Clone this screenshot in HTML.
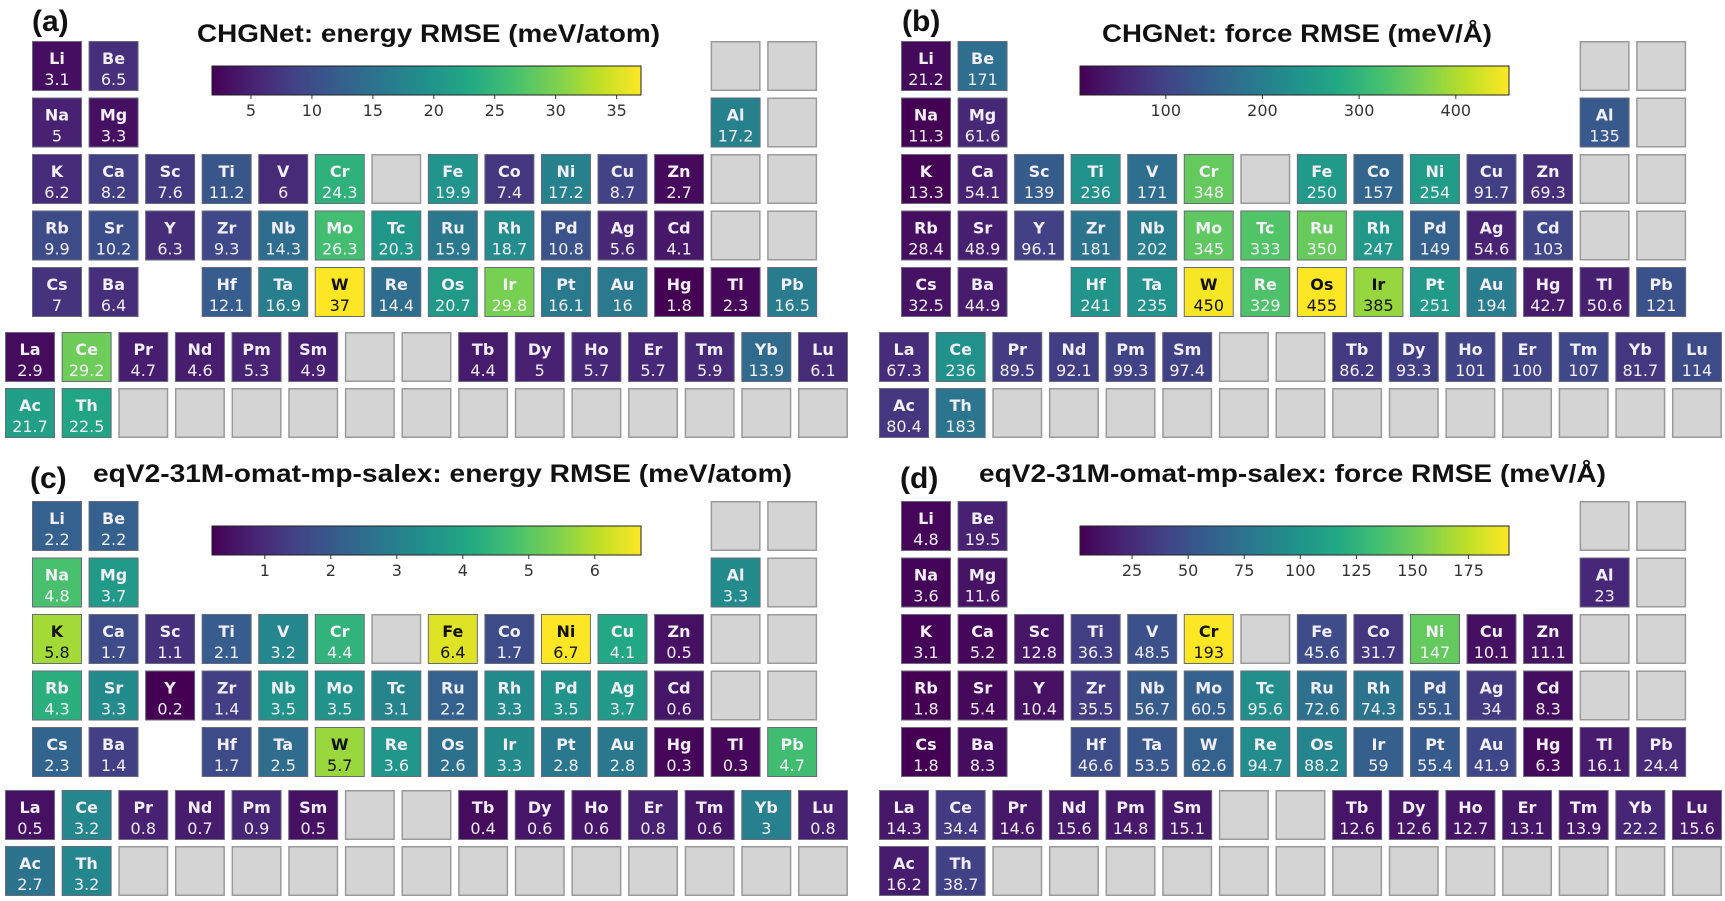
<!DOCTYPE html>
<html><head><meta charset="utf-8">
<style>
html,body{margin:0;padding:0;background:#fff;}
svg{display:block;}
</style></head>
<body>
<svg id="s" width="1725" height="901" viewBox="0 0 1725 901" xmlns="http://www.w3.org/2000/svg">
<defs>
<linearGradient id="vir" x1="0" x2="1" y1="0" y2="0">
<stop offset="0" stop-color="#440154"/><stop offset="0.1" stop-color="#482475"/><stop offset="0.2" stop-color="#414487"/><stop offset="0.3" stop-color="#355f8d"/><stop offset="0.4" stop-color="#2a788e"/><stop offset="0.5" stop-color="#21918c"/><stop offset="0.6" stop-color="#22a884"/><stop offset="0.7" stop-color="#44bf70"/><stop offset="0.8" stop-color="#7ad151"/><stop offset="0.9" stop-color="#bddf26"/><stop offset="1" stop-color="#fde725"/>
</linearGradient>
</defs>
<g font-family="Liberation Sans, DejaVu Sans, sans-serif" font-weight="bold" fill="#111">
<text x="32" y="31" font-size="30">(a)</text>
<text x="902" y="31" font-size="30">(b)</text>
<text x="30" y="488" font-size="30">(c)</text>
<text x="900" y="488" font-size="30">(d)</text>
<text x="197" y="42" font-size="25" textLength="463" lengthAdjust="spacingAndGlyphs">CHGNet: energy RMSE (meV/atom)</text>
<text x="1102" y="42" font-size="25" textLength="390" lengthAdjust="spacingAndGlyphs">CHGNet: force RMSE (meV/Å)</text>
<text x="93" y="482" font-size="25" textLength="699" lengthAdjust="spacingAndGlyphs">eqV2-31M-omat-mp-salex: energy RMSE (meV/atom)</text>
<text x="979" y="482" font-size="25" textLength="627" lengthAdjust="spacingAndGlyphs">eqV2-31M-omat-mp-salex: force RMSE (meV/Å)</text>
</g>
<g id="cells"></g>
</svg>
<script>
const vir=[[68,1,84],[72,36,117],[65,68,135],[53,95,141],[42,120,142],[33,145,140],[34,168,132],[68,191,112],[122,209,81],[189,223,38],[253,231,37]];
function col(t){t=Math.max(0,Math.min(1,t));const s=t*10,i=Math.min(9,Math.floor(s)),f=s-i;return 'rgb('+[0,1,2].map(k=>Math.round(vir[i][k]+(vir[i+1][k]-vir[i][k])*f)).join(',')+')';}
const main=[
"Li Be . . . . . . . . . . _ _",
"Na Mg . . . . . . . . . . Al _",
"K Ca Sc Ti V Cr _ Fe Co Ni Cu Zn _ _",
"Rb Sr Y Zr Nb Mo Tc Ru Rh Pd Ag Cd _ _",
"Cs Ba . Hf Ta W Re Os Ir Pt Au Hg Tl Pb"].map(r=>r.split(" "));
const lan=["La Ce Pr Nd Pm Sm _ _ Tb Dy Ho Er Tm Yb Lu".split(" "),"Ac Th _ _ _ _ _ _ _ _ _ _ _ _ _".split(" ")];
function parse(s){const d={};const t=s.trim().split(/\s+/);for(let i=0;i<t.length;i+=2)d[t[i]]=t[i+1];return d;}
const P=[
{dx:0,dy:0,ldx:0,ldy:0,min:1.8,max:37,ticks:[5,10,15,20,25,30,35],cb:212,
d:parse(`Li 3.1 Be 6.5 Na 5 Mg 3.3 Al 17.2 K 6.2 Ca 8.2 Sc 7.6 Ti 11.2 V 6 Cr 24.3 Fe 19.9 Co 7.4 Ni 17.2 Cu 8.7 Zn 2.7
Rb 9.9 Sr 10.2 Y 6.3 Zr 9.3 Nb 14.3 Mo 26.3 Tc 20.3 Ru 15.9 Rh 18.7 Pd 10.8 Ag 5.6 Cd 4.1
Cs 7 Ba 6.4 Hf 12.1 Ta 16.9 W 37 Re 14.4 Os 20.7 Ir 29.8 Pt 16.1 Au 16 Hg 1.8 Tl 2.3 Pb 16.5
La 2.9 Ce 29.2 Pr 4.7 Nd 4.6 Pm 5.3 Sm 4.9 Tb 4.4 Dy 5 Ho 5.7 Er 5.7 Tm 5.9 Yb 13.9 Lu 6.1 Ac 21.7 Th 22.5`)},
{dx:869,dy:0,ldx:874,ldy:0,min:11.3,max:455,ticks:[100,200,300,400],cb:1080,
d:parse(`Li 21.2 Be 171 Na 11.3 Mg 61.6 Al 135 K 13.3 Ca 54.1 Sc 139 Ti 236 V 171 Cr 348 Fe 250 Co 157 Ni 254 Cu 91.7 Zn 69.3
Rb 28.4 Sr 48.9 Y 96.1 Zr 181 Nb 202 Mo 345 Tc 333 Ru 350 Rh 247 Pd 149 Ag 54.6 Cd 103
Cs 32.5 Ba 44.9 Hf 241 Ta 235 W 450 Re 329 Os 455 Ir 385 Pt 251 Au 194 Hg 42.7 Tl 50.6 Pb 121
La 67.3 Ce 236 Pr 89.5 Nd 92.1 Pm 99.3 Sm 97.4 Tb 86.2 Dy 93.3 Ho 101 Er 100 Tm 107 Yb 81.7 Lu 114 Ac 80.4 Th 183`)},
{dx:0,dy:460,ldx:0,ldy:458,min:0.2,max:6.7,ticks:[1,2,3,4,5,6],cb:212,
d:parse(`Li 2.2 Be 2.2 Na 4.8 Mg 3.7 Al 3.3 K 5.8 Ca 1.7 Sc 1.1 Ti 2.1 V 3.2 Cr 4.4 Fe 6.4 Co 1.7 Ni 6.7 Cu 4.1 Zn 0.5
Rb 4.3 Sr 3.3 Y 0.2 Zr 1.4 Nb 3.5 Mo 3.5 Tc 3.1 Ru 2.2 Rh 3.3 Pd 3.5 Ag 3.7 Cd 0.6
Cs 2.3 Ba 1.4 Hf 1.7 Ta 2.5 W 5.7 Re 3.6 Os 2.6 Ir 3.3 Pt 2.8 Au 2.8 Hg 0.3 Tl 0.3 Pb 4.7
La 0.5 Ce 3.2 Pr 0.8 Nd 0.7 Pm 0.9 Sm 0.5 Tb 0.4 Dy 0.6 Ho 0.6 Er 0.8 Tm 0.6 Yb 3 Lu 0.8 Ac 2.7 Th 3.2`)},
{dx:869,dy:460,ldx:874,ldy:458,min:1.8,max:193,ticks:[25,50,75,100,125,150,175],cb:1080,
d:parse(`Li 4.8 Be 19.5 Na 3.6 Mg 11.6 Al 23 K 3.1 Ca 5.2 Sc 12.8 Ti 36.3 V 48.5 Cr 193 Fe 45.6 Co 31.7 Ni 147 Cu 10.1 Zn 11.1
Rb 1.8 Sr 5.4 Y 10.4 Zr 35.5 Nb 56.7 Mo 60.5 Tc 95.6 Ru 72.6 Rh 74.3 Pd 55.1 Ag 34 Cd 8.3
Cs 1.8 Ba 8.3 Hf 46.6 Ta 53.5 W 62.6 Re 94.7 Os 88.2 Ir 59 Pt 55.4 Au 41.9 Hg 6.3 Tl 16.1 Pb 24.4
La 14.3 Ce 34.4 Pr 14.6 Nd 15.6 Pm 14.8 Sm 15.1 Tb 12.6 Dy 12.6 Ho 12.7 Er 13.1 Tm 13.9 Yb 22.2 Lu 15.6 Ac 16.2 Th 38.7`)}
];
let h='';
const W=50,PX=56.55;
function cell(x,y,sym,p){
 if(sym==='.')return;
 if(sym==='_'){h+=`<rect x="${x+0.75}" y="${y+0.75}" width="${W-1.5}" height="${W-1.5}" fill="#d4d4d4" stroke="#9a9a9a" stroke-width="1.5"/>`;return;}
 const v=parseFloat(p.d[sym]);const t=(v-p.min)/(p.max-p.min);
 const c=col(t);const tc=t>0.82?'#111':'#f2eef6';
 h+=`<rect x="${x+0.5}" y="${y+0.5}" width="${W-1}" height="${W-1}" fill="${c}" stroke="#6a6a7a" stroke-width="1"/>`;
 h+=`<text x="${x+W/2}" y="${y+23}" text-anchor="middle" font-family="DejaVu Sans, sans-serif" font-weight="bold" font-size="16" fill="${tc}">${sym}</text>`;
 h+=`<text x="${x+W/2}" y="${y+44}" text-anchor="middle" font-family="DejaVu Sans, sans-serif" font-size="16" fill="${tc}">${p.d[sym]}</text>`;
}
P.forEach(p=>{
 main.forEach((r,ri)=>r.forEach((s,ci)=>cell(32+p.dx+ci*PX,41+p.dy+ri*56.5,s,p)));
 lan.forEach((r,ri)=>r.forEach((s,ci)=>cell(5+p.ldx+ci*56.64,332+p.ldy+ri*56,s,p)));
 const cy=66+p.dy, cw=429;
 h+=`<rect x="${p.cb}" y="${cy}" width="${cw}" height="29" fill="url(#vir)" stroke="#222" stroke-width="1"/>`;
 p.ticks.forEach(tv=>{const x=p.cb+(tv-p.min)/(p.max-p.min)*cw;
  h+=`<line x1="${x}" x2="${x}" y1="${cy+29}" y2="${cy+33}" stroke="#333" stroke-width="1"/>`;
  h+=`<text x="${x}" y="${cy+50}" text-anchor="middle" font-family="DejaVu Sans, sans-serif" font-size="16" fill="#333">${tv}</text>`;});
});
document.getElementById('cells').innerHTML=h;
</script>
</body></html>
